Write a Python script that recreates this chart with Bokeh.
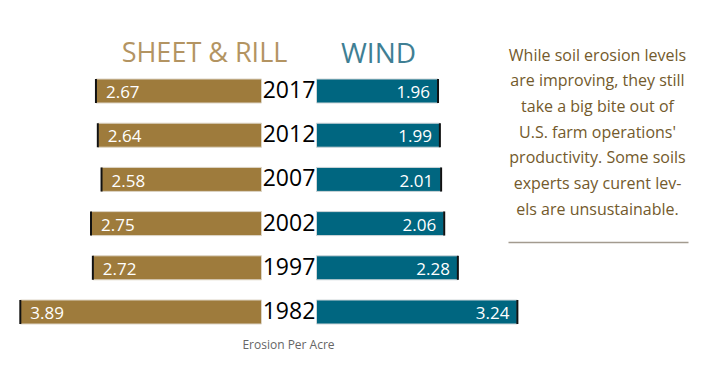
from bokeh.plotting import figure
from bokeh.models import Range1d
from bokeh.embed import file_html
from bokeh.resources import INLINE
from bokeh.core.properties import value

# ---- data ----
years = ["2017", "2012", "2007", "2002", "1997", "1982"]
sheet_rill = [2.67, 2.64, 2.58, 2.75, 2.72, 3.89]
wind = [1.96, 1.99, 2.01, 2.06, 2.28, 3.24]
sheet_labels = ["2.67", "2.64", "2.58", "2.75", "2.72", "3.89"]
wind_labels = ["1.96", "1.99", "2.01", "2.06", "2.28", "3.24"]
note_lines = [
    "While soil erosion levels",
    "are improving, they still",
    "take a big bite out of",
    "U.S. farm operations'",
    "productivity. Some soils",
    "experts say curent lev-",
    "els are unsustainable.",
]

# ---- layout helpers ----
W, H = 712, 366
XS = 62.0      # px per erosion unit
YS = 44.2      # px per row
CX = 288.5     # x of the centre (year labels)
CY = 90.5      # y of first row centre
GAP = 27.5 / XS
BAR_H = 24 / YS
FONT = value("Open Sans")
K = 0.37       # baseline compensation factor (em)

def px(xp):
    return (xp - CX) / XS

def py(yp):
    return (yp - CY) / YS

rows = list(range(len(years)))
x_start = px(0)
y_top = py(0)

p = figure(width=W, height=H, output_backend="svg", toolbar_location=None,
           x_range=Range1d(x_start, x_start + W / XS),
           y_range=Range1d(y_top + H / YS, y_top),
           min_border=0, outline_line_color=None)
p.axis.visible = False
p.grid.visible = False
p.background_fill_color = "white"
p.border_fill_color = "white"

GOLD = "#9e7b3c"
TEAL = "#006680"

left_l = [-GAP - v for v in sheet_rill]
left_r = [-GAP] * len(rows)
right_l = [GAP] * len(rows)
right_r = [GAP + v for v in wind]

p.hbar(y=rows, left=left_l, right=left_r, height=BAR_H,
       fill_color=GOLD, line_color="#ddd5c6", line_width=1)
p.hbar(y=rows, left=right_l, right=right_r, height=BAR_H,
       fill_color=TEAL, line_color="#cfd6d9", line_width=1)

# dark end markers
y0 = [r - BAR_H / 2 for r in rows]
y1 = [r + BAR_H / 2 for r in rows]
p.segment(x0=left_l, y0=y0, x1=left_l, y1=y1, line_color="#111111", line_width=2)
p.segment(x0=right_r, y0=y0, x1=right_r, y1=y1, line_color="#111111", line_width=2)

# value labels
p.text(x=left_l, y=rows, text=sheet_labels, x_offset=10, y_offset=7.5 - K * 17,
       text_align="left", text_baseline="alphabetic", text_color="white",
       text_font=FONT, text_font_size="17px")
p.text(x=right_r, y=rows, text=wind_labels, x_offset=-8, y_offset=7.5 - K * 17,
       text_align="right", text_baseline="alphabetic", text_color="white",
       text_font=FONT, text_font_size="17px")

# year labels
p.text(x=[0] * len(rows), y=rows, text=years, y_offset=7 - K * 23,
       text_align="center", text_baseline="alphabetic", text_color="black",
       text_font=FONT, text_font_size="23px")

# headings
p.text(x=[px(204)], y=[py(61 - K * 27)], text=["SHEET & RILL"], text_align="center",
       text_baseline="alphabetic", text_color="#b39462",
       text_font=FONT, text_font_size="27px")
p.text(x=[px(378)], y=[py(61 - K * 27)], text=["WIND"], text_align="center",
       text_baseline="alphabetic", text_color="#3f7f94",
       text_font=FONT, text_font_size="28px")

# note
note_y = [py(60 + i * 25.7 - K * 16) for i in range(len(note_lines))]
p.text(x=[px(597)] * len(note_lines), y=note_y, text=note_lines,
       text_align="center", text_baseline="alphabetic", text_color="#735a2c",
       text_font=FONT, text_font_size="16px")
p.segment(x0=[px(508)], y0=[py(242)], x1=[px(688)], y1=[py(242)],
          line_color="#a39b8f", line_width=1.5)

# axis caption
p.text(x=[px(288)], y=[py(348 - K * 12)], text=["Erosion Per Acre"], text_align="center",
       text_baseline="alphabetic", text_color="#666666",
       text_font=FONT, text_font_size="12px")

open("out.html", "w").write(file_html(p, INLINE))
